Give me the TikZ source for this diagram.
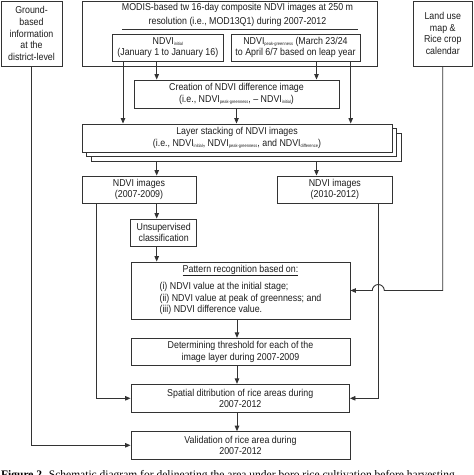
\documentclass[tikz,border=0pt]{standalone}
\usepackage{fontspec}
\setmainfont{Liberation Sans}[FakeStretch=0.885]
\newfontfamily\capfont{Liberation Serif}
\usetikzlibrary{arrows.meta}
\definecolor{ln}{HTML}{333333}
\definecolor{txt}{HTML}{1E1E1E}
\newcommand\sbs[1]{\raisebox{-0.3ex}{\fontsize{4.5}{5}\selectfont #1}}
\begin{document}
\begin{tikzpicture}[x=1pt,y=-1pt,
  font=\fontsize{10}{11.7}\selectfont, text=txt,
  box/.style={draw=ln, line width=0.9pt, rectangle, inner sep=0pt, align=center, fill=white},
  arr/.style={draw=ln, line width=0.9pt, -{Triangle[length=5.5pt,width=4.5pt]}},
  con/.style={draw=ln, line width=0.9pt}]
\useasboundingbox (0,0) rectangle (474,475);
\fill[white] (0,0) rectangle (474,475);

% top row
\node[box, minimum width=61pt, minimum height=65pt] (gb) at (31.5,33.5)
  {Ground-\\based\\information\\at the\\district-level};
\node[box, minimum width=295pt, minimum height=65pt] (modis) at (229.5,33.5) {};
\node[inner sep=0pt, align=center] (modist) at (237.5,14.8)
  {MODIS-based tw 16-day composite NDVI images at 250 m\\[3pt]resolution (i.e., MOD13Q1) during 2007-2012};
\draw[con, line width=0.7pt] (122,29) -- (358,29);
\node[box, minimum width=59.5pt, minimum height=65pt] (lu) at (442.75,33.5)
  {Land use\\map \&\\Rice crop\\calendar};
\node[box, minimum width=110.3pt, minimum height=27pt] (ini) at (167.85,47.5)
  {NDVI\sbs{initial}\\(January 1 to January 16)};
\node[box, minimum width=129pt, minimum height=27pt] (peak) at (295.5,47.5)
  {NDVI\sbs{peak-greenness} (March 23/24\\to April 6/7 based on leap year};

% middle
\node[box, minimum width=205pt, minimum height=28pt] (diff) at (236.5,94)
  {Creation of NDVI difference image\\(i.e., NDVI\sbs{peak-greenness}, \textendash{} NDVI\sbs{initial})};
\node[box, minimum width=310pt, minimum height=28pt] (stack3) at (246,147) {};
\node[box, minimum width=310pt, minimum height=28pt] (stack2) at (241.5,142.5) {};
\node[box, minimum width=310pt, minimum height=28pt] (stack) at (237,138)
  {Layer stacking of NDVI images\\(i.e., NDVI\sbs{initial}, NDVI\sbs{peak-greenness}, and NDVI\sbs{difference})};
\node[box, minimum width=114pt, minimum height=27pt] (n1) at (139,189.5) {NDVI images\\(2007-2009)};
\node[box, minimum width=114.3pt, minimum height=27pt] (n2) at (334.85,189.5) {NDVI images\\(2010-2012)};
\node[box, minimum width=66pt, minimum height=27pt] (uns) at (163.7,232.5) {Unsupervised\\classification};
\node[box, minimum width=219pt, minimum height=57pt] (pat) at (240.5,290.5)
  {\underline{Pattern recognition based on:}\\[4pt]%
   \begin{tabular}[t]{@{}l@{}}(i) NDVI value at the initial stage;\\(ii) NDVI value at peak of greenness; and\\(iii) NDVI difference value.\end{tabular}};
\node[box, minimum width=219pt, minimum height=27.4pt] (thr) at (240.5,352)
  {Determining threshold for each of the\\image layer during 2007-2009};
\node[box, minimum width=218.5pt, minimum height=28pt] (spa) at (240.25,398.3)
  {Spatial ditribution of rice areas during\\2007-2012};
\node[box, minimum width=219pt, minimum height=27.3pt] (val) at (240.5,445.3)
  {Validation of rice area during\\2007-2012};

% columns
\coordinate (xa) at (123,0);
\coordinate (xb) at (156.7,0);
\coordinate (xc) at (316.5,0);
\coordinate (xd) at (350.7,0);
\coordinate (xe) at (236.5,0);
\coordinate (xh) at (96,0);
\coordinate (xi) at (378.3,0);
\coordinate (xm) at (237,0);
\coordinate (b1) at (384.3,290.5);

% connectors
\draw[arr] (ini.south -| xa) -- (stack.north -| xa);
\draw[arr] (ini.south -| xb) -- (diff.north -| xb);
\draw[arr] (peak.south -| xc) -- (diff.north -| xc);
\draw[arr] (peak.south -| xd) -- (stack.north -| xd);
\draw[arr] (diff.south -| xe) -- (stack.north -| xe);
\draw[arr] (stack3.south -| xb) -- (n1.north -| xb);
\draw[arr] (stack3.south -| xc) -- (n2.north -| xc);
\draw[arr] (n1.south -| xb) -- (uns.north -| xb);
\draw[arr] (uns.south -| xb) -- (pat.north -| xb);
\draw[arr] (pat.south -| xm) -- (thr.north -| xm);
\draw[arr] (thr.south -| xm) -- (spa.north -| xm);
\draw[arr] (spa.south -| xm) -- (val.north -| xm);
\draw[arr] (gb.south) |- (val.west);
\draw[arr] (n1.south -| xh) |- (spa.west);
\draw[arr] (n2.south -| xi) |- (spa.east);
\draw[arr] (lu.south) |- (b1) arc[start angle=0, end angle=-180, radius=6] -- (pat.east);

% caption (cut by the page edge, as in the reference)
\node[anchor=base west, inner sep=0pt, text=black, font=\capfont\fontsize{11.5}{13}\selectfont] (cap) at (1,478)
  {\textbf{Figure 2.} Schematic diagram for delineating the area under boro rice cultivation before harvesting};
\end{tikzpicture}
\end{document}
